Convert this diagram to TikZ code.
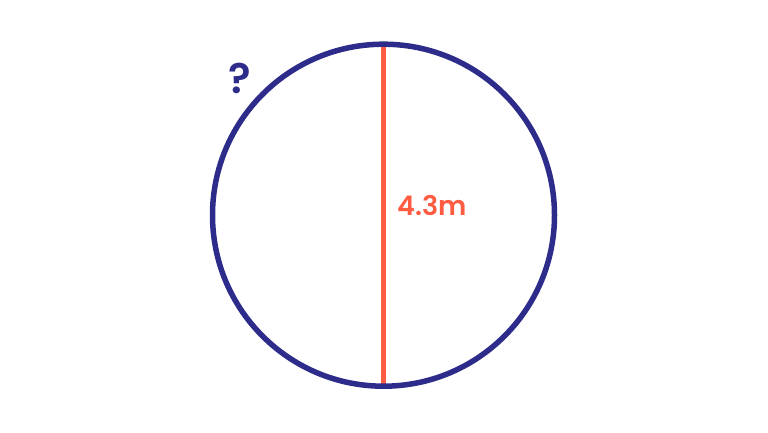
\documentclass[tikz,border=0pt]{standalone}
\usepackage{fontspec}
\newfontfamily\popfont{Poppins}[BoldFont={Poppins SemiBold}]
\definecolor{navyring}{HTML}{2E2C8A}
\definecolor{redline}{HTML}{FF5C42}
\begin{document}
\begin{tikzpicture}[x=1pt,y=1pt]
                    \useasboundingbox (0,0) rectangle (768,432);
                    \coordinate (centre) at (383.5,216.8);
                    \coordinate (top) at (383.5,387.8);
                    \coordinate (bottom) at (383.5,45.8);
                    
                    \draw [redline, line width=5pt] (top)--(bottom);
                    \draw [navyring, line width=5.5pt] (centre) circle (171);
                    
                    \node (diam) [anchor=base west, inner sep=0pt, text=redline] at (397,216.3) {\popfont\bfseries\fontsize{27}{30}\selectfont 4.3m};
                    \node (unknown) [anchor=base west, inner sep=0pt, text=navyring] at (228,338) {\popfont\bfseries\fontsize{42}{46}\selectfont ?};
                    \end{tikzpicture}
\end{document}
